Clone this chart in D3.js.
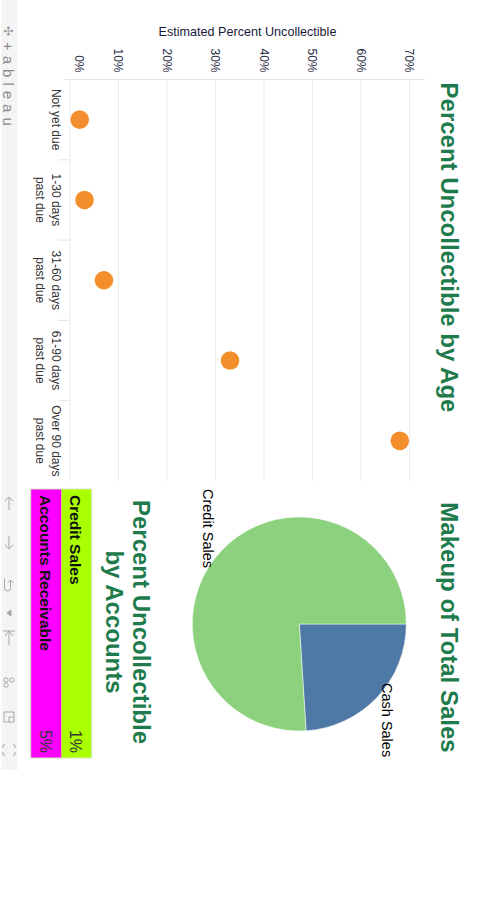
<!DOCTYPE html>
<html>
<head>
<meta charset="utf-8">
<script src="https://cdn.jsdelivr.net/npm/d3@7"></script>
<style>
  body { margin: 0; background: #fff; }
  text { font-family: "Liberation Sans", Arial, sans-serif; }
</style>
</head>
<body>
<div id="dash"></div>
<script>
// Aging schedule data
const ageBuckets = ["Not yet due", "1-30 days|past due", "31-60 days|past due", "61-90 days|past due", "Over 90 days|past due"];
const pctUncollectible = [0.02, 0.03, 0.07, 0.33, 0.68];
const pctTicks = [0, 0.1, 0.2, 0.3, 0.4, 0.5, 0.6, 0.7];

// Makeup of total sales
const salesTypes = ["Cash Sales", "Credit Sales"];
const salesShare = [0.24, 0.76];

// Percent uncollectible by account
const accounts = ["Credit Sales", "Accounts Receivable"];
const accountPct = ["1%", "5%"];
const accountColors = ["#aaff00", "#ff00ff"];

const green = "#1e7b4c";
const pageW = 494, pageH = 920;

const svg = d3.select("#dash")
  .append("svg")
  .attr("width", pageW)
  .attr("height", pageH);

// the dashboard is shown turned a quarter turn clockwise
const dash = svg.append("g")
  .attr("transform", "translate(460,0) rotate(90)");

// toolbar strip
dash.append("rect")
  .attr("x", 0).attr("y", 442.5)
  .attr("width", 770).attr("height", 16)
  .attr("fill", "#f4f4f4");

dash.append("text")
  .attr("x", 26).attr("y", 456.5)
  .attr("font-size", 12)
  .attr("fill", "#9a9a9a")
  .text("\u2723");
dash.append("text")
  .attr("x", 42).attr("y", 457.5)
  .attr("font-size", 15)
  .attr("letter-spacing", 5)
  .attr("fill", "#8a8a8a")
  .text("+ableau");

// toolbar icons drawn as simple strokes
const tb = dash.append("g")
  .attr("fill", "none")
  .attr("stroke", "#a8a8a8")
  .attr("stroke-width", 1);
// undo / redo
tb.append("path").attr("d", "M497,451 H510 M497,451 l4,-4 M497,451 l4,4");
tb.append("path").attr("d", "M536,451 H549 M549,451 l-4,-4 M549,451 l-4,4");
// revert
tb.append("path").attr("d", "M578,455.5 H588 a3,3 0 0 0 0,-6 H580 M580,449.5 l3,-3 M580,449.5 l3,3");
// pause triangle
tb.append("path").attr("d", "M610,449 l6,0 l-3,4 z").attr("fill", "#a8a8a8");
// refresh to start
tb.append("path").attr("d", "M631,445 V457 M631,451 H645 M631,451 l5,-4 M631,451 l5,4");
// share
tb.append("circle").attr("cx", 680).attr("cy", 448).attr("r", 2.2);
tb.append("circle").attr("cx", 680).attr("cy", 454).attr("r", 2.2);
tb.append("circle").attr("cx", 685).attr("cy", 454).attr("r", 2.2);
// download
tb.append("path").attr("d", "M712,446 H722 V456 H712 Z M717,446 V451 H722");
// full screen
tb.append("path").attr("d", "M745,447 v-2 h3 M752,445 h3 v2 M755,455 v2 h-3 M748,457 h-3 v-2");

// ---------- Percent Uncollectible by Age ----------
const xBand = d3.scaleBand()
  .domain(ageBuckets)
  .range([79.5, 481]);

const yPct = d3.scaleLinear()
  .domain([0, 0.732])
  .range([390, 35]);

dash.append("text")
  .attr("x", 247.5).attr("y", 19.3)
  .attr("text-anchor", "middle")
  .attr("font-size", 24)
  .attr("font-weight", "bold")
  .attr("fill", green)
  .text("Percent Uncollectible by Age");

// gridlines
dash.selectAll(".grid")
  .data(pctTicks)
  .enter()
  .append("line")
  .attr("class", "grid")
  .attr("x1", 79.5).attr("x2", 481)
  .attr("y1", d => yPct(d)).attr("y2", d => yPct(d))
  .attr("stroke", "#ebebeb");

// axis line + category dividers
dash.append("line")
  .attr("x1", 79.5).attr("x2", 79.5)
  .attr("y1", 35).attr("y2", 395)
  .attr("stroke", "#e4e4e4");
dash.selectAll(".divider")
  .data(ageBuckets.slice(1))
  .enter()
  .append("line")
  .attr("class", "divider")
  .attr("x1", d => xBand(d)).attr("x2", d => xBand(d))
  .attr("y1", 390).attr("y2", 402)
  .attr("stroke", "#e4e4e4");

// value axis labels
dash.selectAll(".tick-label")
  .data(pctTicks)
  .enter()
  .append("text")
  .attr("class", "tick-label")
  .attr("x", 72.5)
  .attr("y", d => yPct(d) + (d === 0 ? -9 : 0))
  .attr("dy", "0.35em")
  .attr("text-anchor", "end")
  .attr("font-size", 12)
  .attr("fill", "#1f2a44")
  .text(d3.format(".0%"));

dash.append("text")
  .attr("transform", `translate(35.5,${(yPct.range()[0] + yPct.range()[1]) / 2}) rotate(-90)`)
  .attr("text-anchor", "middle")
  .attr("font-size", 12.6)
  .attr("fill", "#1a1a3a")
  .text("Estimated Percent Uncollectible");

// category labels
const catLabels = dash.selectAll(".cat")
  .data(ageBuckets)
  .enter()
  .append("text")
  .attr("class", "cat")
  .attr("text-anchor", "middle")
  .attr("font-size", 12)
  .attr("fill", "#333");
catLabels.selectAll("tspan")
  .data(d => d.split("|").map(t => ({ t, c: d })))
  .enter()
  .append("tspan")
  .attr("x", d => xBand(d.c) + xBand.bandwidth() / 2)
  .attr("y", (d, i) => 408.5 + i * 15.5)
  .text(d => d.t);

// dots
dash.selectAll(".dot")
  .data(pctUncollectible)
  .enter()
  .append("circle")
  .attr("class", "dot")
  .attr("cx", (d, i) => xBand(ageBuckets[i]) + xBand.bandwidth() / 2)
  .attr("cy", d => yPct(d))
  .attr("r", 9.3)
  .attr("fill", "#f28e2b");

// ---------- Makeup of Total Sales ----------
dash.append("text")
  .attr("x", 627.5).attr("y", 19.3)
  .attr("text-anchor", "middle")
  .attr("font-size", 24)
  .attr("font-weight", "bold")
  .attr("fill", green)
  .text("Makeup of Total Sales");

const pieCx = 624, pieCy = 160.7, pieR = 107;
const pie = d3.pie().sort(null)(salesShare);
const arc = d3.arc().innerRadius(0).outerRadius(pieR);
const pieColor = d3.scaleOrdinal().domain(salesTypes).range(["#4e79a7", "#8cd17d"]);

const pieG = dash.append("g")
  .attr("transform", `translate(${pieCx},${pieCy})`);
pieG.selectAll("path")
  .data(pie)
  .enter()
  .append("path")
  .attr("d", arc)
  .attr("fill", (d, i) => pieColor(salesTypes[i]))
  .attr("stroke", "#fff")
  .attr("stroke-width", 0.5);

// slice labels sit just outside each slice's far edge
const labelOffsets = [[59, -82.4], [-135, 96.3]];
pieG.selectAll(".pie-label")
  .data(salesTypes)
  .enter()
  .append("text")
  .attr("class", "pie-label")
  .attr("x", (d, i) => labelOffsets[i][0])
  .attr("y", (d, i) => labelOffsets[i][1])
  .attr("font-size", 14.5)
  .attr("fill", "#000")
  .text(d => d);

// ---------- Percent Uncollectible by Accounts ----------
const accTitle = dash.append("text")
  .attr("text-anchor", "middle")
  .attr("font-size", 24)
  .attr("font-weight", "bold")
  .attr("fill", green);
accTitle.append("tspan").attr("x", 622).attr("y", 326.7).text("Percent Uncollectible");
accTitle.append("tspan").attr("x", 622).attr("y", 354).text("by Accounts");

const rowBand = d3.scaleBand()
  .domain(accounts)
  .range([368.3, 429.3]);

const tableX0 = 489, tableX1 = 758;

dash.selectAll(".acc-row")
  .data(accounts)
  .enter()
  .append("rect")
  .attr("class", "acc-row")
  .attr("x", tableX0)
  .attr("y", d => rowBand(d))
  .attr("width", tableX1 - tableX0)
  .attr("height", rowBand.bandwidth())
  .attr("fill", (d, i) => accountColors[i]);

dash.append("rect")
  .attr("x", tableX0).attr("y", rowBand.range()[0])
  .attr("width", tableX1 - tableX0)
  .attr("height", rowBand.range()[1] - rowBand.range()[0])
  .attr("fill", "none")
  .attr("stroke", "#d6e8c0")
  .attr("stroke-width", 1);

dash.selectAll(".acc-name")
  .data(accounts)
  .enter()
  .append("text")
  .attr("class", "acc-name")
  .attr("x", tableX0 + 6)
  .attr("y", d => rowBand(d) + rowBand.bandwidth() / 2 + 6)
  .attr("font-size", 15.5)
  .attr("font-weight", "bold")
  .attr("fill", "#111")
  .text(d => d);

dash.selectAll(".acc-val")
  .data(accountPct)
  .enter()
  .append("text")
  .attr("class", "acc-val")
  .attr("x", tableX1 - 5)
  .attr("y", (d, i) => rowBand(accounts[i]) + rowBand.bandwidth() / 2 + 6)
  .attr("text-anchor", "end")
  .attr("font-size", 16)
  .attr("fill", "#333")
  .text(d => d);
</script>
</body>
</html>
